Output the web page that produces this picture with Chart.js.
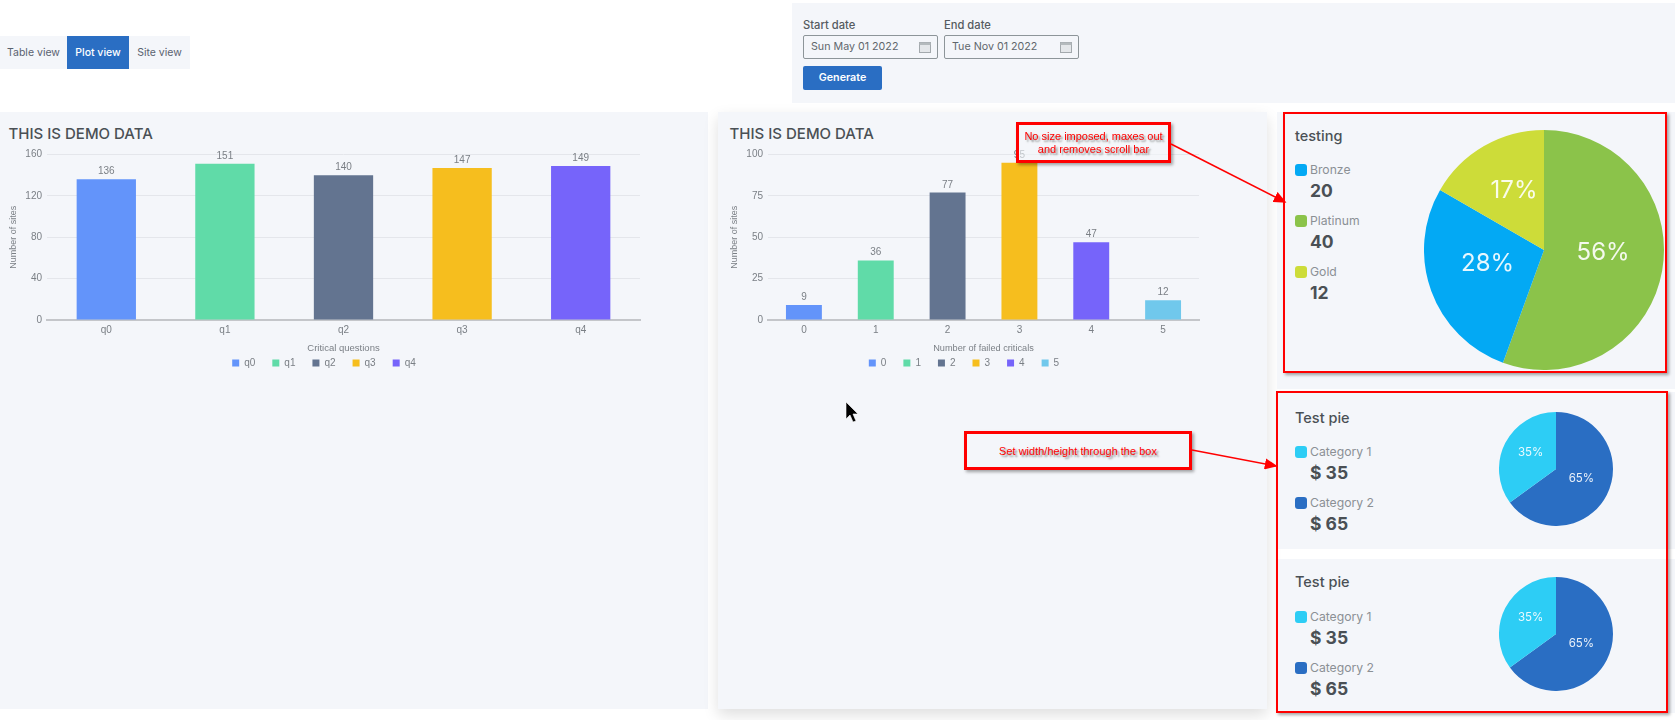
<!DOCTYPE html>
<html lang="en">

<head>
    <meta charset="UTF-8">
    <title>Plot view</title>
    <script src="https://cdn.jsdelivr.net/npm/chart.js"></script>
    <style>
        html, body { margin: 0; padding: 0; background: #fff; overflow: hidden; }
        body { width: 1675px; height: 720px; position: relative; font-family: Inter, "Noto Sans", sans-serif; color: #4a5055; }
        .abs { position: absolute; }
        .panel { position: absolute; background: #f4f6fa; }
        .tab { position: absolute; top: 36px; height: 33px; line-height: 33px; text-align: center; font-size: 10.5px; color: #5a6270; background: #f4f6fa; }
        .tab.on { background: #2a6ec3; color: #fff; font-weight: 500; }
        .lbl { position: absolute; font-size: 11.2px; font-weight: 500; color: #555b60; }
        .inp { position: absolute; top: 35px; height: 22px; width: 133px; border: 1px solid #8d9599; border-radius: 2px; font-size: 10.7px; line-height: 22px; color: #5f666c; text-indent: 7px; }
        .inp svg { position: absolute; right: 6px; top: 5px; }
        .btn { position: absolute; left: 803px; top: 66px; width: 79px; height: 24px; line-height: 24px; background: #2a6ec3; color: #fff; border-radius: 2px; text-align: center; font-size: 10.7px; font-weight: 600; }
        .title { position: absolute; font-size: 15px; font-weight: 500; color: #4a5055; white-space: nowrap; }
        .ptitle { position: absolute; left: 1295px; font-size: 14.5px; font-weight: 500; color: #4a5055; }
        .sw { position: absolute; left: 1295px; width: 12px; height: 12px; border-radius: 3px; }
        .nm { position: absolute; left: 1310px; font-size: 12.2px; color: #8b9095; white-space: nowrap; }
        .val { position: absolute; left: 1310px; font-size: 17.5px; font-weight: 700; color: #4a5055; white-space: nowrap; }
        canvas { position: absolute; }
        .note { position: absolute; border: 3px solid #ff0000; box-shadow: 2px 2px 3px rgba(0,0,0,.35); color: #ff0000; font-family: "Liberation Sans", sans-serif; font-size: 11px; line-height: 13px; text-align: center; text-shadow: 2px 2px 2px rgba(0,0,0,.45); box-sizing: border-box; background: rgba(244,246,250,.6); }
        .frame { position: absolute; border: 2px solid #ff0000; box-shadow: 2px 2px 3px rgba(0,0,0,.35); box-sizing: border-box; }
    </style>
</head>

<body>
    <div class="tab" style="left:0;width:67px">Table view</div>
    <div class="tab on" style="left:67px;width:62px">Plot view</div>
    <div class="tab" style="left:129px;width:61px">Site view</div>

    <div class="panel" style="left:792px;top:3px;width:883px;height:100px"></div>
    <div class="lbl" style="left:803px;top:18px">Start date</div>
    <div class="lbl" style="left:944px;top:18px">End date</div>
    <div class="inp" style="left:803px">Sun May 01 2022<svg width="12" height="12"><rect x=".5" y="1.5" width="11" height="10" fill="#e4e7ea" stroke="#a3a9ad"/><rect x=".5" y="1.5" width="11" height="2.5" fill="#b4babd"/></svg></div>
    <div class="inp" style="left:944px">Tue Nov 01 2022<svg width="12" height="12"><rect x=".5" y="1.5" width="11" height="10" fill="#e4e7ea" stroke="#a3a9ad"/><rect x=".5" y="1.5" width="11" height="2.5" fill="#b4babd"/></svg></div>
    <div class="btn">Generate</div>

    <!-- 面板 -->
    <div class="panel" style="left:0;top:112px;width:708px;height:597px"></div>
    <div class="panel" style="left:718px;top:112px;width:549px;height:597px;box-shadow:0 6px 14px rgba(0,0,0,.13)"></div>
    <div class="panel" style="left:1277px;top:112px;width:398px;height:277px"></div>
    <div class="panel" style="left:1277px;top:392px;width:398px;height:157px"></div>
    <div class="panel" style="left:1277px;top:559px;width:398px;height:154px"></div>

    <div class="title" style="left:8.5px;top:124px">THIS IS DEMO DATA</div>
    <div class="title" style="left:729.5px;top:124px">THIS IS DEMO DATA</div>

    <canvas id="barA" style="left:0;top:140px" width="709" height="238"></canvas>
    <canvas id="barB" style="left:718px;top:140px" width="549" height="238"></canvas>
    <canvas id="pieA" style="left:1424px;top:130px" width="240" height="240"></canvas>
    <canvas id="pieB" style="left:1499px;top:412px" width="114" height="114"></canvas>
    <canvas id="pieC" style="left:1499px;top:577px" width="114" height="114"></canvas>

    <div id="legends"></div>

    <div class="frame" style="left:1283px;top:112px;width:384px;height:261px"></div>
    <div class="frame" style="left:1276px;top:391px;width:392px;height:322px"></div>
    <div class="note" style="left:1016px;top:122px;width:155px;height:41px;padding-top:5px">No size imposed, maxes out<br>and removes scroll bar</div>
    <div class="note" style="left:964px;top:431px;width:228px;height:39px;padding-top:11px;background:#f4f6fa">Set width/height through the box</div>

    <svg class="abs" style="left:0;top:0" width="1675" height="720">
        <defs><marker id="tip" markerWidth="8" markerHeight="7" refX="7" refY="3.5" orient="auto"><path d="M0 0L8 3.5L0 7z" fill="#f00"/></marker></defs>
        <line x1="1171" y1="144" x2="1285" y2="202" stroke="#f00" stroke-width="1.6" marker-end="url(#tip)"/>
        <line x1="1192" y1="450" x2="1276" y2="466" stroke="#f00" stroke-width="1.6" marker-end="url(#tip)"/>
        <path d="M846 402v17l4-4 3 7 3-1-3-7h5z" fill="#000" stroke="#fff" stroke-width=".6"/>
    </svg>

    <script>
        // 資料
        var questionLabels = ['q0', 'q1', 'q2', 'q3', 'q4'];
        var questionValues = [136, 151, 140, 147, 149];
        var failedLabels = ['0', '1', '2', '3', '4', '5'];
        var failedValues = [9, 36, 77, 95, 47, 12];

        var tierLabels = ['Platinum', 'Bronze', 'Gold'];
        var tierValues = [40, 20, 12];
        var tierListOrder = ['Bronze', 'Platinum', 'Gold'];
        var testLabels = ['Category 2', 'Category 1'];
        var testValues = [65, 35];
        var testListOrder = ['Category 1', 'Category 2'];

        var barColors = ['#6394fa', '#60dba8', '#637490', '#f6be1e', '#7664fa', '#70c8ec'];
        var tierColors = ['#8bc34a', '#03a9f4', '#cddc39'];
        var testColors = ['#2a6ec3', '#2dcdf5'];

        var tickFont = { family: '"Liberation Sans Narrow", "Liberation Sans"', size: 10 };
        var tickColor = '#7a7f85';

        // 直接把數值畫在長條上方和圓餅中央
        var valueLabels = {
            id: 'valueLabels',
            afterDatasetsDraw: function (chart) {
                var c = chart.ctx;
                var meta = chart.getDatasetMeta(0);
                var values = chart.data.datasets[0].data;
                var total = values.reduce(function (a, b) { return a + b; }, 0);
                c.save();
                c.textAlign = 'center';
                c.textBaseline = 'alphabetic';
                meta.data.forEach(function (el, i) {
                    if (chart.config.type === 'bar') {
                        c.font = '10px ' + tickFont.family;
                        c.fillStyle = tickColor;
                        c.fillText(values[i], el.x, el.y - 5);
                    } else {
                        var pos = el.tooltipPosition();
                        c.font = chart.options.pieFontSize + 'px Inter';
                        c.fillStyle = 'rgba(255,255,255,.9)';
                        c.fillText(Math.round(values[i] / total * 100) + '%', pos.x, pos.y);
                    }
                });
                c.restore();
            }
        };

        function makeBar(id, labels, values, max, step, xTitle, padLeft, padRight, titleSize) {
            new Chart(document.getElementById(id), {
                type: 'bar',
                plugins: [valueLabels],
                data: {
                    labels: labels,
                    datasets: [{
                        data: values,
                        backgroundColor: barColors.slice(0, labels.length),
                        categoryPercentage: 0.5,
                        barPercentage: 1
                    }]
                },
                options: {
                    responsive: false,
                    animation: false,
                    layout: { padding: { left: padLeft, right: padRight, top: 14.5, bottom: 0 } },
                    plugins: {
                        tooltip: { enabled: false },
                        legend: {
                            position: 'bottom',
                            onClick: null,
                            labels: {
                                boxWidth: 7, boxHeight: 7, padding: 17, color: tickColor, font: tickFont,
                                generateLabels: function (chart) {
                                    return chart.data.labels.map(function (l, i) {
                                        return { text: l, fillStyle: barColors[i], strokeStyle: barColors[i], lineWidth: 0, fontColor: tickColor, index: i };
                                    });
                                }
                            }
                        }
                    },
                    scales: {
                        x: {
                            // 圖例的 padding 很大，這裡壓低高度，標題用負 padding 放回去
                            afterFit: function (s) { s.height = 21; },
                            grid: { display: false, drawTicks: true, tickLength: 3, tickColor: '#c4c6ca' },
                            border: { color: '#c4c6ca', width: 2 },
                            ticks: { color: tickColor, font: tickFont, padding: 1 },
                            title: { display: true, text: xTitle, color: tickColor, font: { family: tickFont.family, size: titleSize }, padding: { top: 0, bottom: -13 } }
                        },
                        y: {
                            min: 0, max: max,
                            afterFit: function (s) { s.width = 39; },
                            border: { display: false },
                            grid: { color: '#e4e6eb', drawTicks: false },
                            ticks: { stepSize: step, color: tickColor, font: tickFont, padding: 5 },
                            title: { display: true, text: 'Number of sites', color: tickColor, font: { family: '"Liberation Sans"', size: 9 }, padding: 0 }
                        }
                    }
                }
            });
        }

        function makePie(id, labels, values, colors, fontSize) {
            new Chart(document.getElementById(id), {
                type: 'pie',
                plugins: [valueLabels],
                data: { labels: labels, datasets: [{ data: values, backgroundColor: colors, borderWidth: 0 }] },
                options: {
                    responsive: false,
                    animation: false,
                    pieFontSize: fontSize,
                    plugins: { legend: { display: false }, tooltip: { enabled: false } }
                }
            });
        }

        // 右側圓餅圖的圖例，順序和圖上不同
        function makeList(title, titleTop, order, labels, values, colors, prefix, top, gap) {
            var box = document.getElementById('legends');
            var html = '<div class="ptitle" style="top:' + titleTop + 'px">' + title + '</div>';
            order.forEach(function (name, n) {
                var i = labels.indexOf(name);
                var y = top + n * gap;
                html += '<div class="sw" style="top:' + y + 'px;background:' + colors[i] + '"></div>';
                html += '<div class="nm" style="top:' + (y - 2) + 'px">' + name + '</div>';
                html += '<div class="val" style="top:' + (y + 15.5) + 'px">' + prefix + values[i] + '</div>';
            });
            box.insertAdjacentHTML('beforeend', html);
        }

        makeBar('barA', questionLabels, questionValues, 160, 40, 'Critical questions', 8, 69, 9.5);
        makeBar('barB', failedLabels, failedValues, 100, 25, 'Number of failed criticals', 11, 68, 9.2);
        makePie('pieA', tierLabels, tierValues, tierColors, 24);
        makePie('pieB', testLabels, testValues, testColors, 11.5);
        makePie('pieC', testLabels, testValues, testColors, 11.5);

        makeList('testing', 127, tierListOrder, tierLabels, tierValues, tierColors, '', 164, 51);
        makeList('Test pie', 409, testListOrder, testLabels, testValues, testColors, '$ ', 446, 51);
        makeList('Test pie', 573, testListOrder, testLabels, testValues, testColors, '$ ', 611, 51);
    </script>
</body>

</html>
